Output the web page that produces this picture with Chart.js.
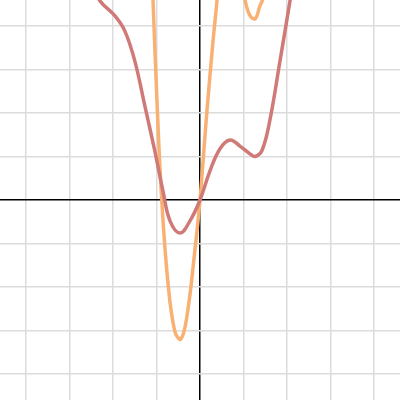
<!DOCTYPE html>
<html><head>
<script src="https://cdn.jsdelivr.net/npm/chart.js@4"></script>
<style>html,body{margin:0;padding:0;background:#fff}#w{width:400px;height:400px}</style>
</head><body><div id="w"><canvas id="c"></canvas></div>
<script>
const redX=[-2.5,-2.3,-1.96,-1.73,-1.5,-1.27,-1.04,-0.85,-0.69,-0.46,-0.23,0,0.23,0.46,0.69,0.92,1.15,1.27,1.43,1.61,1.84,2.07,2.2];
const redY=[5.0,4.58,4.24,3.89,3.2,2.17,1.13,0.2,-0.48,-0.76,-0.48,0,0.67,1.18,1.38,1.24,1.06,1.0,1.15,1.85,3.2,4.58,5.4];
const orangeX=[-1.1,-1.08,-0.99,-0.88,-0.74,-0.58,-0.44,-0.3,-0.12,0,0.16,0.3,0.39,0.42];
const orangeY=[5.0,4.58,2.28,0,-1.87,-3.02,-3.2,-2.67,-1.18,0,2.05,3.66,4.58,5.0];
const orange2X=[1.0,1.04,1.15,1.27,1.38,1.43,1.47];
const orange2Y=[4.9,4.58,4.24,4.17,4.47,4.58,4.9];
const zip=(a,b)=>a.map((x,i)=>({x:x,y:b[i]}));
const ds=(d,c)=>({data:d,borderColor:c,borderWidth:3.5,showLine:true,pointRadius:0,tension:0.4,fill:false});
const ax={type:'linear',min:-4.6,max:4.6,
  afterBuildTicks:s=>{s.ticks=[];for(let v=-4;v<=4;v++)s.ticks.push({value:v});},
  ticks:{display:false},border:{display:false},
  grid:{drawTicks:false,lineWidth:1.5,color:c=>c.tick&&c.tick.value===0?'#000':'#dcdcdc'}};
new Chart(document.getElementById('c'),{type:'scatter',
 data:{datasets:[ds(zip(redX,redY),'#d07a78'),ds(zip(orangeX,orangeY),'#f9b173'),ds(zip(orange2X,orange2Y),'#f9b173')]},
 options:{responsive:true,maintainAspectRatio:false,animation:false,layout:{padding:0},
  plugins:{legend:{display:false},tooltip:{enabled:false}},
  scales:{x:ax,y:Object.assign({},ax)}}});
</script></body></html>
